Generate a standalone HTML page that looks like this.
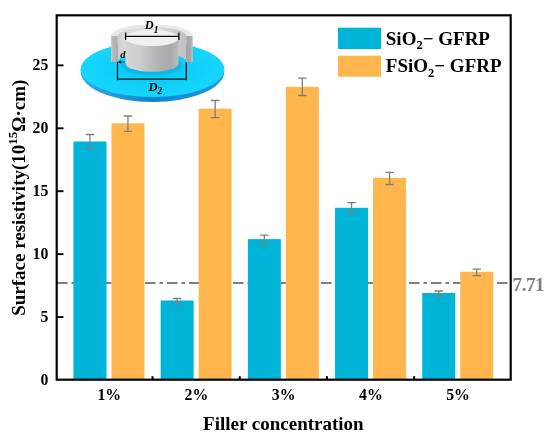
<!DOCTYPE html>
<html><head><meta charset="utf-8"><title>Surface resistivity</title>
<style>
html,body{margin:0;padding:0;background:#fff;}
svg{display:block;font-family:"Liberation Serif","DejaVu Serif",serif;font-weight:bold;}
</style></head><body>
<svg width="550" height="442" viewBox="0 0 550 442">
<defs>
<linearGradient id="cyl" x1="0" x2="1" y1="0" y2="0">
<stop offset="0" stop-color="#d6d5d6"/><stop offset="0.25" stop-color="#cfcecf"/><stop offset="0.6" stop-color="#b4b3b5"/><stop offset="0.85" stop-color="#a9a8aa"/><stop offset="1" stop-color="#bdbcbe"/>
</linearGradient>
<linearGradient id="ringin" x1="0" x2="1" y1="0" y2="0">
<stop offset="0" stop-color="#d0cccc"/><stop offset="0.12" stop-color="#dedbdb"/><stop offset="0.5" stop-color="#e6e3e3"/><stop offset="0.88" stop-color="#cbc7ca"/><stop offset="1" stop-color="#c2bec2"/>
</linearGradient>
<radialGradient id="disc" cx="0.5" cy="0.5" r="0.5">
<stop offset="0" stop-color="#08c6f4"/><stop offset="0.6" stop-color="#10d0f9"/><stop offset="1" stop-color="#16d6fb"/>
</radialGradient>
<linearGradient id="rim" x1="0" x2="1" y1="0" y2="0">
<stop offset="0" stop-color="#35a8ee"/><stop offset="0.5" stop-color="#0c86cf"/><stop offset="1" stop-color="#2298e0"/>
</linearGradient>
<linearGradient id="faceL" x1="0" x2="1" y1="0" y2="0">
<stop offset="0" stop-color="#cfcccc"/><stop offset="0.3" stop-color="#b9b6b7"/><stop offset="1" stop-color="#aeabac"/>
</linearGradient>
<linearGradient id="faceR" x1="0" x2="1" y1="0" y2="0">
<stop offset="0" stop-color="#a5a1a5"/><stop offset="0.7" stop-color="#aeaaae"/><stop offset="1" stop-color="#c8c4c8"/>
</linearGradient>
</defs>
<rect x="0" y="0" width="550" height="442" fill="#ffffff"/>

<line x1="57" y1="283.0" x2="510" y2="283.0" stroke="#7f7f7f" stroke-width="1.8" stroke-dasharray="10.5 4 3.5 4"/>
<rect x="73.45" y="141.50" width="33.0" height="238.20" fill="#00b4d8"/>
<path d="M89.95 134.50V149.10M85.75 134.50H94.15M85.75 149.10H94.15" stroke="#7f7f7f" stroke-width="1.3" fill="none"/>
<rect x="111.45" y="123.30" width="33.0" height="256.40" fill="#ffb74d"/>
<path d="M127.95 116.00V131.30M123.75 116.00H132.15M123.75 131.30H132.15" stroke="#7f7f7f" stroke-width="1.3" fill="none"/>
<rect x="160.65" y="300.50" width="33.0" height="79.20" fill="#00b4d8"/>
<path d="M177.15 298.50V303.80M172.95 298.50H181.35M172.95 303.80H181.35" stroke="#7f7f7f" stroke-width="1.3" fill="none"/>
<rect x="198.65" y="108.70" width="33.0" height="271.00" fill="#ffb74d"/>
<path d="M215.15 100.50V117.60M210.95 100.50H219.35M210.95 117.60H219.35" stroke="#7f7f7f" stroke-width="1.3" fill="none"/>
<rect x="247.85" y="239.10" width="33.0" height="140.60" fill="#00b4d8"/>
<path d="M264.35 235.10V244.00M260.15 235.10H268.55M260.15 244.00H268.55" stroke="#7f7f7f" stroke-width="1.3" fill="none"/>
<rect x="285.85" y="86.90" width="33.0" height="292.80" fill="#ffb74d"/>
<path d="M302.35 78.20V95.50M298.15 78.20H306.55M298.15 95.50H306.55" stroke="#7f7f7f" stroke-width="1.3" fill="none"/>
<rect x="335.05" y="207.80" width="33.0" height="171.90" fill="#00b4d8"/>
<path d="M351.55 202.70V213.30M347.35 202.70H355.75M347.35 213.30H355.75" stroke="#7f7f7f" stroke-width="1.3" fill="none"/>
<rect x="373.05" y="177.80" width="33.0" height="201.90" fill="#ffb74d"/>
<path d="M389.55 172.40V184.50M385.35 172.40H393.75M385.35 184.50H393.75" stroke="#7f7f7f" stroke-width="1.3" fill="none"/>
<rect x="422.25" y="293.00" width="33.0" height="86.70" fill="#00b4d8"/>
<path d="M438.75 291.00V296.30M434.55 291.00H442.95M434.55 296.30H442.95" stroke="#7f7f7f" stroke-width="1.3" fill="none"/>
<rect x="460.25" y="271.80" width="33.0" height="107.90" fill="#ffb74d"/>
<path d="M476.75 269.20V275.70M472.55 269.20H480.95M472.55 275.70H480.95" stroke="#7f7f7f" stroke-width="1.3" fill="none"/>
<g id="inset">
<!-- disc rim -->
<path d="M80.7 69.3 L80.7 71.5 A71.8 30.5 0 0 0 224.3 71.5 L224.3 69.3 Z" fill="url(#rim)"/>
<!-- disc top -->
<ellipse cx="152.5" cy="69.3" rx="71.8" ry="27.7" fill="url(#disc)"/>
<!-- soft shadow under cylinder -->
<ellipse cx="152" cy="65.5" rx="31" ry="10" fill="#00a8dc" opacity="0.45"/>
<!-- ring inner wall (back half) -->
<path d="M117.7 36 A34.3 9.6 0 0 1 186.3 36 L186.3 61.8 A34.3 9.6 0 0 0 117.7 61.8 Z" fill="url(#ringin)"/>
<!-- ring top surface -->
<path d="M111 36 A40.9 11.6 0 0 1 192.8 36 L186.3 36 A34.3 9.6 0 0 0 117.7 36 Z" fill="#e9e7e7"/>
<!-- ring cut faces -->
<rect x="111" y="36" width="6.7" height="25.8" fill="url(#faceL)"/>
<rect x="186.3" y="36" width="6.5" height="26.2" fill="url(#faceR)"/>
<!-- cylinder side -->
<path d="M125.4 38 L125.4 63.5 A26.6 8.3 0 0 0 178.6 63.5 L178.6 38 Z" fill="url(#cyl)"/>
<!-- cylinder top -->
<ellipse cx="152" cy="38" rx="26.6" ry="8" fill="#f1f0f1"/>
<!-- dimension lines -->
<path d="M125.6 36.4 H178.9 M125.6 32.6 V40 M178.9 32.6 V40" stroke="#0a0a0a" stroke-width="1.25" fill="none"/>
<path d="M117.5 62 V80.3 M186.3 62.3 V80.3 M117.5 79 H186.3" stroke="#0a0a0a" stroke-width="1.25" fill="none"/>
<path d="M118 62 L121.3 60.3 L121.3 63.7 Z" fill="#111"/>
<path d="M121 62 H125" stroke="#1a5fa8" stroke-width="1"/>
<text x="144.8" y="29.3" font-size="12.3" font-style="italic">D<tspan font-size="9.5" dy="3.2">1</tspan></text>
<text x="148.4" y="90.6" font-size="12.5" font-style="italic">D<tspan font-size="9.5" dy="3.2">2</tspan></text>
<text x="120.3" y="57.8" font-size="10.5" font-style="italic">d</text>
</g>

<rect x="56.7" y="15.3" width="454" height="364.4" fill="none" stroke="#000" stroke-width="2.2"/>
<line x1="57" y1="317.07" x2="63.5" y2="317.07" stroke="#000" stroke-width="1.9"/>
<line x1="57" y1="254.15" x2="63.5" y2="254.15" stroke="#000" stroke-width="1.9"/>
<line x1="57" y1="191.22" x2="63.5" y2="191.22" stroke="#000" stroke-width="1.9"/>
<line x1="57" y1="128.30" x2="63.5" y2="128.30" stroke="#000" stroke-width="1.9"/>
<line x1="57" y1="65.37" x2="63.5" y2="65.37" stroke="#000" stroke-width="1.9"/>
<text x="48.3" y="384.60" font-size="15.8" text-anchor="end">0</text>
<text x="48.3" y="321.67" font-size="15.8" text-anchor="end">5</text>
<text x="48.3" y="258.75" font-size="15.8" text-anchor="end">10</text>
<text x="48.3" y="195.82" font-size="15.8" text-anchor="end">15</text>
<text x="48.3" y="132.90" font-size="15.8" text-anchor="end">20</text>
<text x="48.3" y="69.97" font-size="15.8" text-anchor="end">25</text>
<line x1="152.55" y1="379" x2="152.55" y2="376.2" stroke="#000" stroke-width="2"/>
<line x1="239.75" y1="379" x2="239.75" y2="376.2" stroke="#000" stroke-width="2"/>
<line x1="326.95" y1="379" x2="326.95" y2="376.2" stroke="#000" stroke-width="2"/>
<line x1="414.15" y1="379" x2="414.15" y2="376.2" stroke="#000" stroke-width="2"/>
<text x="109.25" y="400.2" font-size="15.8" text-anchor="middle">1%</text>
<text x="196.45" y="400.2" font-size="15.8" text-anchor="middle">2%</text>
<text x="283.65" y="400.2" font-size="15.8" text-anchor="middle">3%</text>
<text x="370.85" y="400.2" font-size="15.8" text-anchor="middle">4%</text>
<text x="458.05" y="400.2" font-size="15.8" text-anchor="middle">5%</text>
<text x="283.4" y="430.2" font-size="19" text-anchor="middle">Filler concentration</text>
<text transform="translate(25.3 197.7) rotate(-90)" font-size="19" text-anchor="middle">Surface resistivity(10<tspan font-size="13" dy="-8">15</tspan><tspan dy="8">Ω·cm)</tspan></text>
<rect x="338" y="27.7" width="43" height="21.3" fill="#00b4d8"/>
<rect x="338" y="55.7" width="43" height="21" fill="#ffb74d"/>
<text x="385.8" y="44.5" font-size="19">SiO<tspan font-size="12.5" dy="4.5">2</tspan><tspan dy="-4.5">− GFRP</tspan></text>
<text x="385.8" y="72.3" font-size="19">FSiO<tspan font-size="12.5" dy="4.5">2</tspan><tspan dy="-4.5">− GFRP</tspan></text>
<text x="512.6" y="290.8" font-size="19.2" letter-spacing="-0.55" fill="#7f7f7f">7.71</text>
</svg></body></html>
